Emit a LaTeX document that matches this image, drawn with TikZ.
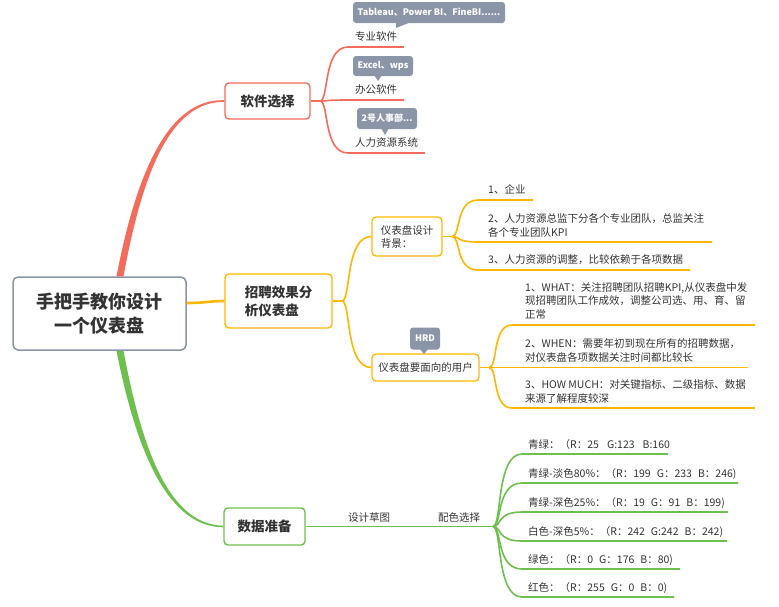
\documentclass[tikz,border=0pt]{standalone}
\usepackage{fontspec}
\setmainfont{Noto Sans CJK SC}
\usetikzlibrary{calc}
\definecolor{cred}{RGB}{244,108,91}
\definecolor{corange}{RGB}{255,183,3}
\definecolor{cgreen}{RGB}{110,192,78}
\definecolor{cgray}{RGB}{139,149,168}
\definecolor{ctext}{RGB}{51,51,51}
\begin{document}
\begin{tikzpicture}[x=1pt,y=-1pt,
  leaf/.style={anchor=base west,inner sep=0pt,font=\fontsize{10.5}{13.5}\selectfont,text=ctext,align=left},
  topic/.style={draw,rounded corners=4pt,line width=1.4pt,fill=white,inner sep=0pt,font=\fontsize{13.5}{18}\bfseries\selectfont,text=ctext},
  subbox/.style={draw,rounded corners=4pt,line width=1.3pt,fill=white,inner sep=0pt,font=\fontsize{10.5}{13}\selectfont,text=ctext},
  bub/.style={fill=cgray,rounded corners=3pt,text=white,font=\fontsize{9}{11}\bfseries\selectfont,inner sep=0pt},
  rootbox/.style={draw=cgray,rounded corners=5pt,line width=1.5pt,fill=white,inner sep=0pt,font=\fontsize{18}{24}\bfseries\selectfont,text=ctext,align=center},
  cv/.style={to path={.. controls ($(\tikztostart)+(9,0)$) and ($(\tikztostart |- \tikztotarget)+(3,0)$) .. (\tikztotarget)}},
  rl/.style={draw=cred,line width=1.6pt},
  ol/.style={draw=corange,line width=1.6pt},
  gl/.style={draw=cgreen,line width=1.6pt},
  ]
\useasboundingbox (0,0) rectangle (779,606);

% ---------- nodes ----------
\node[rootbox,minimum width=173pt,minimum height=73pt] (root) at (99.5,313.5) {手把手教你设计\\一个仪表盘};
\node[topic,draw=cred,minimum width=85pt,minimum height=36pt] (t1) at (267.5,101) {软件选择};
\node[topic,draw=corange,minimum width=107pt,minimum height=54pt,align=left] (t2) at (278.5,301) {招聘效果分\\析仪表盘};
\node[topic,draw=cgreen,minimum width=81pt,minimum height=37pt] (t3) at (264.5,526.5) {数据准备};

\node[subbox,draw=corange,minimum width=70pt,minimum height=39pt,align=left] (bg) at (407,236.5) {仪表盘设计\\背景：};
\node[subbox,draw=corange,minimum width=107pt,minimum height=27pt] (us) at (425.5,367.5) {仪表盘要面向的用户};

% ---------- main branches ----------
\coordinate (rs) at ($(root.north)+(20.5,0)$);
\coordinate (gs) at ($(root.south)+(20.5,0)$);
\fill[cred] ($(rs)+(-3.5,0)$) .. controls (137,170) and (169,98.6) .. ($(t1.west)+(0,-0.8)$)
  -- ($(t1.west)+(0,0.8)$) .. controls (171,101.6) and (143,170) .. ($(rs)+(3.5,0)$) -- cycle;
\fill[cgreen] ($(gs)+(-3.5,0)$) .. controls (137,455) and (169,526.8) .. ($(t3.west)+(0,0.8)$)
  -- ($(t3.west)+(0,-0.8)$) .. controls (171,524.6) and (143,455) .. ($(gs)+(3.5,0)$) -- cycle;
\draw[corange,line width=2.6pt] ($(root.east)+(0,-10.5)$) .. controls (205,303) and (210,301) .. (t2.west);

% ---------- software branch ----------
\coordinate (j1) at (320,101);
\coordinate (a1) at (348,47);  \coordinate (a1e) at (404,47);
\coordinate (a2) at (348,100); \coordinate (a2e) at (404,100);
\coordinate (a3) at (348,153); \coordinate (a3e) at (425,153);
\draw[rl] (t1.east) -- (j1);
\draw[rl] (j1) to[cv] (a1) -- (a1e);
\draw[rl] (j1) to[cv] (a2) -- (a2e);
\draw[rl] (j1) to[cv] (a3) -- (a3e);
\node[leaf] (la1) at (355,40.5) {专业软件};
\node[leaf] (la2) at (355,93.5) {办公软件};
\node[leaf] (la3) at (355,146.5) {人力资源系统};

\node[bub,minimum width=152pt,minimum height=21pt] (b1) at (429,12.5) {Tableau、Power BI、FineBI......};
\fill[cgray] (396,22) -- (411,22) -- (396,28) -- cycle;
\node[bub,minimum width=60pt,minimum height=20pt] (b2) at (383,66) {Excel、wps};
\fill[cgray] (374,75) -- (382,75) -- (378,81) -- cycle;
\node[bub,minimum width=60pt,minimum height=21pt] (b3) at (387,118.5) {2号人事部...};
\fill[cgray] (381,128) -- (389,128) -- (385,135) -- cycle;

% ---------- recruiting branch ----------
\coordinate (j2) at (342,301);
\draw[ol] (t2.east) -- (j2);
\draw[ol] (j2) to[cv] (bg.west);
\draw[ol] (j2) to[cv] (us.west);
\node[bub,minimum width=30pt,minimum height=22pt] (hrd) at (425,338.5) {HRD};
\fill[cgray] (420,349) -- (428,349) -- (424,354) -- cycle;

\coordinate (j3) at (452,236.5);
\coordinate (c1) at (478,200); \coordinate (c1e) at (533,200);
\coordinate (c2) at (478,242); \coordinate (c2e) at (712,242);
\coordinate (c3) at (478,270); \coordinate (c3e) at (690,270);
\draw[ol] (bg.east) -- (j3);
\draw[ol] (j3) to[cv] (c1) -- (c1e);
\draw[ol] (j3) to[cv] (c2) -- (c2e);
\draw[ol] (j3) to[cv] (c3) -- (c3e);
\node[leaf] (lc1) at (488,193) {1、企业};
\node[leaf] (lc2) at (488,236) {2、人力资源总监下分各个专业团队，总监关注\\各个专业团队KPI};
\node[leaf] (lc3) at (488,263) {3、人力资源的调整，比较依赖于各项数据};

\coordinate (j4) at (489,367.5);
\coordinate (d1) at (512,325);   \coordinate (d1e) at (755,325);
\coordinate (d2) at (512,367.5); \coordinate (d2e) at (748,367.5);
\coordinate (d3) at (512,408);   \coordinate (d3e) at (755,408);
\draw[ol] (us.east) -- (j4);
\draw[ol] (j4) to[cv] (d1) -- (d1e);
\draw[ol] (j4) to[cv] (d2) -- (d2e);
\draw[ol] (j4) to[cv] (d3) -- (d3e);
\node[leaf] (ld1) at (525,318) {1、WHAT：关注招聘团队招聘KPI,从仪表盘中发\\现招聘团队工作成效，调整公司选、用、育、留\\正常};
\node[leaf] (ld2) at (525,361) {2、WHEN：需要年初到现在所有的招聘数据，\\对仪表盘各项数据关注时间都比较长};
\node[leaf] (ld3) at (525,402) {3、HOW MUCH：对关键指标、二级指标、数据\\来源了解程度较深};

% ---------- data branch ----------
\coordinate (e1) at (342,526.5); \coordinate (e1e) at (403,526.5);
\coordinate (e2) at (432,526.5); \coordinate (e2e) at (483,526.5);
\coordinate (j5) at (493,526.5);
\draw[gl] (t3.east) -- (e1) -- (e1e) -- (e2) -- (e2e) -- (j5);
\node[leaf] (le1) at (348,521) {设计草图};
\node[leaf] (le2) at (438,521) {配色选择};

\coordinate (f1) at (522,454); \coordinate (f1e) at (668,454);
\coordinate (f2) at (522,483); \coordinate (f2e) at (738,483);
\coordinate (f3) at (522,512); \coordinate (f3e) at (728,512);
\coordinate (f4) at (522,541); \coordinate (f4e) at (727,541);
\coordinate (f5) at (522,569); \coordinate (f5e) at (680,569);
\coordinate (f6) at (522,597); \coordinate (f6e) at (674,597);
\foreach \i in {1,...,6} {\draw[gl] (j5) to[cv] (f\i) -- (f\i e);}
\node[leaf] (lf1) at (528,448) {青绿：（R：25\hspace{8pt}G:123\hspace{8pt}B:160};
\node[leaf] (lf2) at (528,477) {青绿-淡色80\%：（R：199\hspace{6pt}G：233\hspace{6pt}B：246)};
\node[leaf] (lf3) at (528,506) {青绿-深色25\%：（R：19\hspace{6pt}G：91\hspace{6pt}B：199)};
\node[leaf] (lf4) at (528,535) {白色-深色5\%：（R：242\hspace{6pt}G:242\hspace{6pt}B：242)};
\node[leaf] (lf5) at (528,563) {绿色：（R：0\hspace{6pt}G：176\hspace{6pt}B：80)};
\node[leaf] (lf6) at (528,591) {红色：（R：255\hspace{6pt}G：0\hspace{6pt}B：0)};
\end{tikzpicture}
\end{document}
